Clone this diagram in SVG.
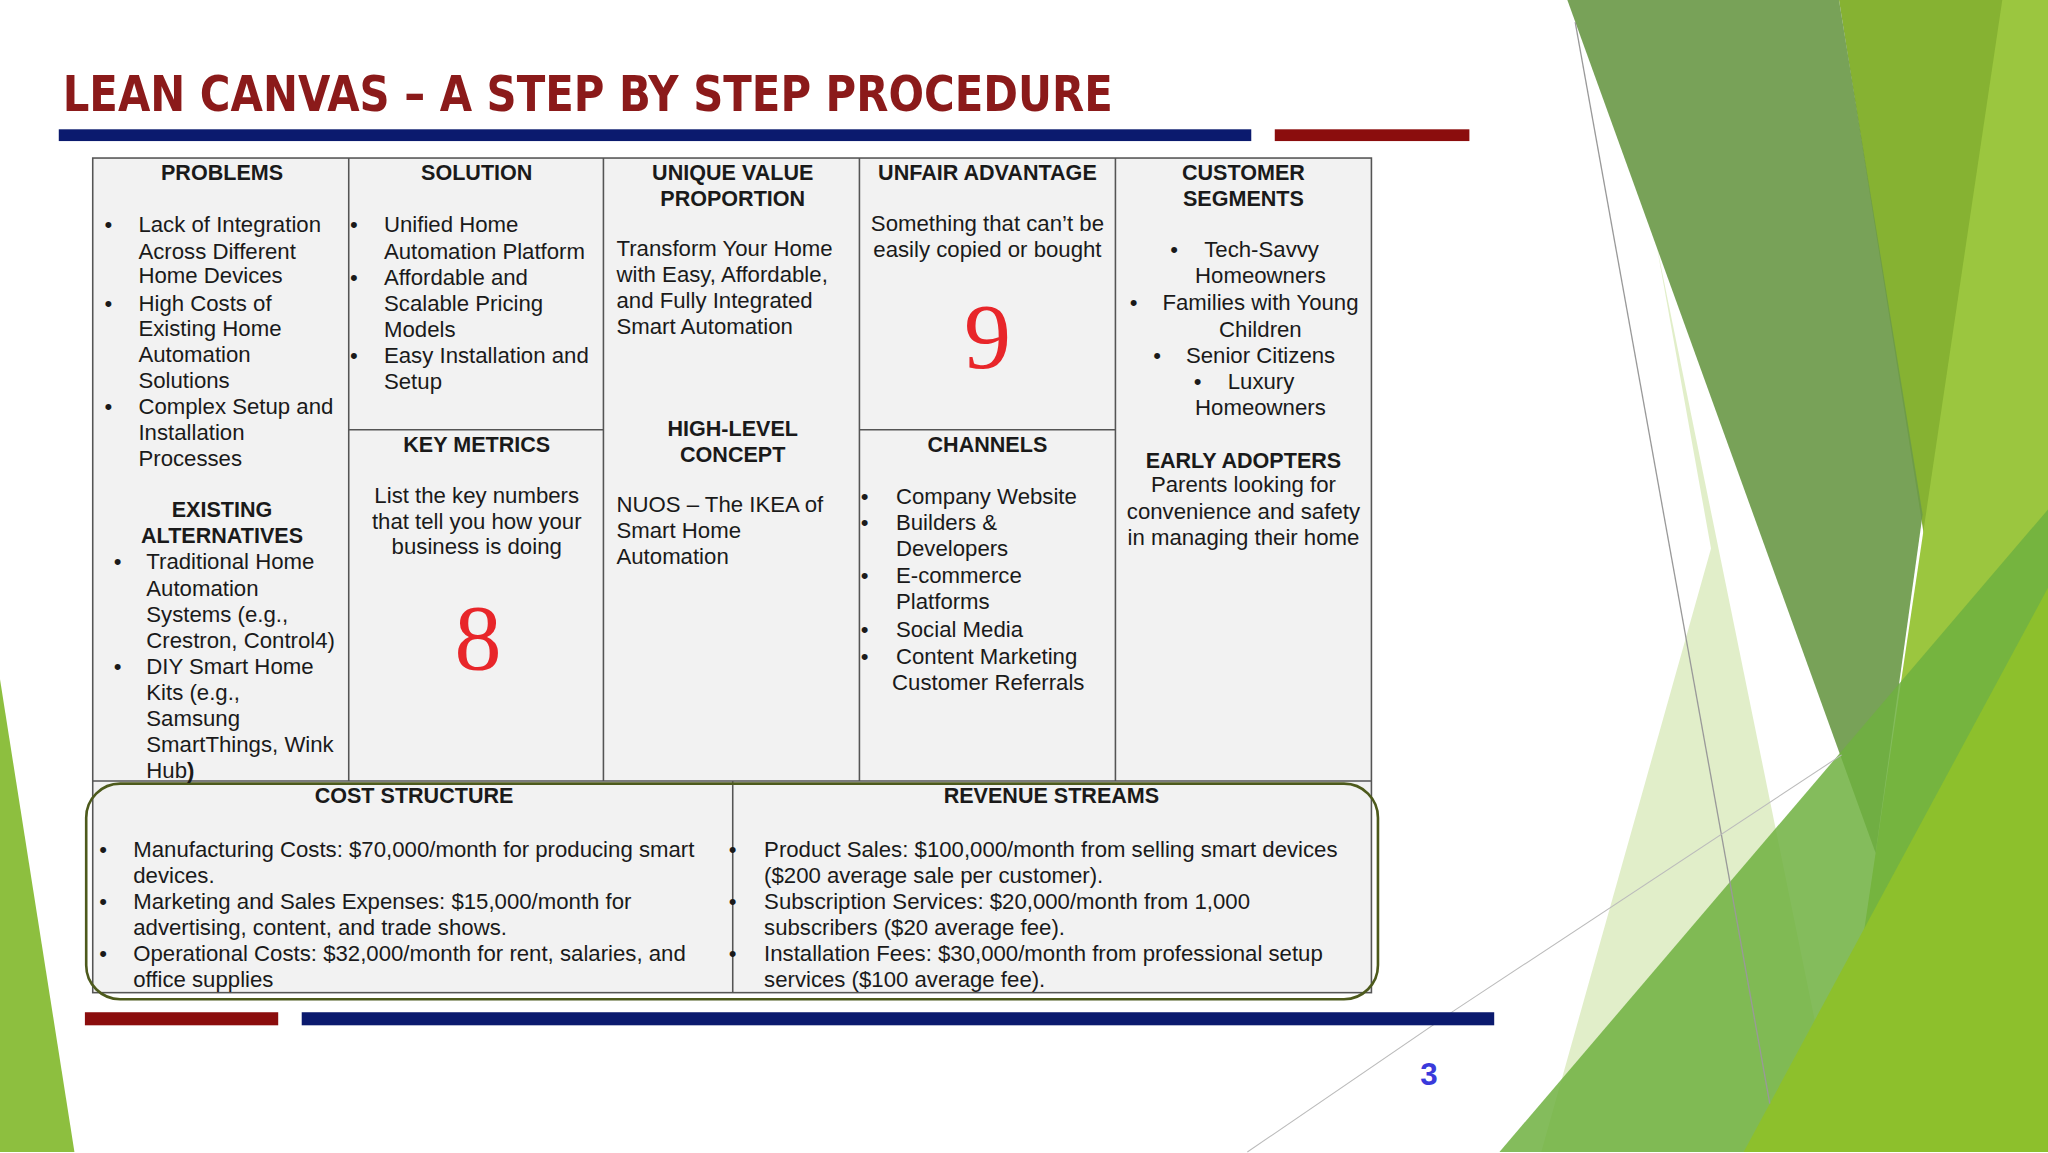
<svg xmlns="http://www.w3.org/2000/svg" width="2048" height="1153" viewBox="0 0 2048 1153">
<style>
.t{font-family:"Liberation Sans",Arial,sans-serif;font-size:17px;fill:#1a1a1a}
.h{font-family:"Liberation Sans",Arial,sans-serif;font-size:16.5px;font-weight:bold;fill:#1a1a1a;text-anchor:middle}
.c{text-anchor:middle}
.big{font-family:"Liberation Serif","Times New Roman",serif;font-size:72px;fill:#e8262a;text-anchor:middle}
.ln{stroke:#555;stroke-width:1.2;fill:none}
</style>
<rect width="2048" height="1153" fill="#fff"/>
<g transform="scale(1.30612)">
<g id="background">
<polygon points="1268,186 1410,882 1180,882 1310,420" fill="#dcebc0" opacity="0.85"/>
<polygon points="1408,0 1568,0 1568,882 1500,580" fill="#86b232"/>
<polygon points="1533,0 1568,0 1568,882 1402,882" fill="#9bc63f"/>
<polygon points="1200,0 1408,0 1472,394 1436,653" fill="#6c9a4a" opacity="0.92"/>
<polygon points="1148,882 1568,390 1568,882" fill="#6fb040" opacity="0.85"/>
<polygon points="1335,882 1568,450 1568,882" fill="#8dc02c"/>
<line x1="1206" y1="17" x2="1355" y2="845" stroke="#999" stroke-width="1"/>
<line x1="955" y1="882" x2="1113" y2="774" stroke="#bbb" stroke-width="0.8"/>
<line x1="1113" y1="774" x2="1410" y2="578" stroke="#bbb" stroke-width="0.8"/>
<polygon points="0,520 57,882 0,882" fill="#8dbf3f"/>
</g>
<g id="title">
<text x="48" y="85" textLength="804" lengthAdjust="spacingAndGlyphs" style="font-family:'DejaVu Sans Condensed','DejaVu Sans',sans-serif;font-size:38px;font-weight:bold;fill:#8b1a1a">LEAN CANVAS – A STEP BY STEP PROCEDURE</text>
<rect x="45" y="99" width="913" height="9" fill="#0b1a6e"/>
<rect x="976" y="99" width="149" height="9" fill="#8b0d0d"/>
<rect x="65" y="775" width="148" height="10" fill="#8b0d0d"/>
<rect x="231" y="775" width="913" height="10" fill="#0b1a6e"/>
<text x="1094" y="831" style="font-family:'Liberation Sans',Arial,sans-serif;font-size:24px;font-weight:bold;fill:#3a3adb" text-anchor="middle">3</text>
</g>
<g id="canvas-frame">
<rect x="71" y="121" width="979" height="639" fill="#f2f2f2" stroke="#555" stroke-width="1.2"/>
<line class="ln" x1="267" y1="121" x2="267" y2="598"/>
<line class="ln" x1="462" y1="121" x2="462" y2="598"/>
<line class="ln" x1="658" y1="121" x2="658" y2="598"/>
<line class="ln" x1="854" y1="121" x2="854" y2="598"/>
<line class="ln" x1="267" y1="329" x2="462" y2="329"/>
<line class="ln" x1="658" y1="329" x2="854" y2="329"/>
<line class="ln" x1="71" y1="598" x2="1050" y2="598"/>
<line class="ln" x1="561" y1="598" x2="561" y2="760"/>
<rect x="66" y="600" width="989" height="165" rx="26" fill="none" stroke="#4d5a1c" stroke-width="2"/>
</g>
<g id="problems">
<text class="h" x="170" y="138">PROBLEMS</text>
<text class="t" x="80" y="178">•</text><text class="t" x="106" y="178">Lack of Integration</text>
<text class="t" x="106" y="198">Across Different</text>
<text class="t" x="106" y="217">Home Devices</text>
<text class="t" x="80" y="238">•</text><text class="t" x="106" y="238">High Costs of</text>
<text class="t" x="106" y="257">Existing Home</text>
<text class="t" x="106" y="277">Automation</text>
<text class="t" x="106" y="297">Solutions</text>
<text class="t" x="80" y="317">•</text><text class="t" x="106" y="317">Complex Setup and</text>
<text class="t" x="106" y="337">Installation</text>
<text class="t" x="106" y="357">Processes</text>
<text class="h" x="170" y="396">EXISTING</text>
<text class="h" x="170" y="416">ALTERNATIVES</text>
<text class="t" x="87" y="436">•</text><text class="t" x="112" y="436">Traditional Home</text>
<text class="t" x="112" y="456">Automation</text>
<text class="t" x="112" y="476">Systems (e.g.,</text>
<text class="t" x="112" y="496">Crestron, Control4)</text>
<text class="t" x="87" y="516">•</text><text class="t" x="112" y="516">DIY Smart Home</text>
<text class="t" x="112" y="536">Kits (e.g.,</text>
<text class="t" x="112" y="556">Samsung</text>
<text class="t" x="112" y="576">SmartThings, Wink</text>
<text class="t" x="112" y="596">Hub<tspan font-weight="bold">)</tspan></text>
</g>
<g id="solution">
<text class="h" x="365" y="138">SOLUTION</text>
<text class="t" x="268" y="178">•</text><text class="t" x="294" y="178">Unified Home</text>
<text class="t" x="294" y="198">Automation Platform</text>
<text class="t" x="268" y="218">•</text><text class="t" x="294" y="218">Affordable and</text>
<text class="t" x="294" y="238">Scalable Pricing</text>
<text class="t" x="294" y="258">Models</text>
<text class="t" x="268" y="278">•</text><text class="t" x="294" y="278">Easy Installation and</text>
<text class="t" x="294" y="298">Setup</text>
</g>
<g id="key-metrics">
<text class="h" x="365" y="346">KEY METRICS</text>
<text class="t c" x="365" y="385">List the key numbers</text>
<text class="t c" x="365" y="405">that tell you how your</text>
<text class="t c" x="365" y="424">business is doing</text>
<text class="big" x="366" y="512">8</text>
</g>
<g id="uvp">
<text class="h" x="561" y="138">UNIQUE VALUE</text>
<text class="h" x="561" y="158">PROPORTION</text>
<text class="t" x="472" y="196">Transform Your Home</text>
<text class="t" x="472" y="216">with Easy, Affordable,</text>
<text class="t" x="472" y="236">and Fully Integrated</text>
<text class="t" x="472" y="256">Smart Automation</text>
</g>
<g id="high-level-concept">
<text class="h" x="561" y="334">HIGH-LEVEL</text>
<text class="h" x="561" y="354">CONCEPT</text>
<text class="t" x="472" y="392">NUOS – The IKEA of</text>
<text class="t" x="472" y="412">Smart Home</text>
<text class="t" x="472" y="432">Automation</text>
</g>
<g id="unfair-advantage">
<text class="h" x="756" y="138">UNFAIR ADVANTAGE</text>
<text class="t c" x="756" y="177">Something that can’t be</text>
<text class="t c" x="756" y="197">easily copied or bought</text>
<text class="big" x="756" y="282">9</text>
</g>
<g id="channels">
<text class="h" x="756" y="346">CHANNELS</text>
<text class="t" x="659" y="386">•</text><text class="t" x="686" y="386">Company Website</text>
<text class="t" x="659" y="406">•</text><text class="t" x="686" y="406">Builders &amp;</text>
<text class="t" x="686" y="426">Developers</text>
<text class="t" x="659" y="446">•</text><text class="t" x="686" y="446">E-commerce</text>
<text class="t" x="686" y="466">Platforms</text>
<text class="t" x="659" y="488">•</text><text class="t" x="686" y="488">Social Media</text>
<text class="t" x="659" y="508">•</text><text class="t" x="686" y="508">Content Marketing</text>
<text class="t" x="683" y="528">Customer Referrals</text>
</g>
<g id="customer-segments">
<text class="h" x="952" y="138">CUSTOMER</text>
<text class="h" x="952" y="158">SEGMENTS</text>
<text class="t" x="896" y="197">•</text><text class="t" x="922" y="197">Tech-Savvy</text>
<text class="t c" x="965" y="217">Homeowners</text>
<text class="t" x="865" y="237">•</text><text class="t" x="890" y="237">Families with Young</text>
<text class="t c" x="965" y="258">Children</text>
<text class="t" x="883" y="278">•</text><text class="t" x="908" y="278">Senior Citizens</text>
<text class="t" x="914" y="298">•</text><text class="t" x="940" y="298">Luxury</text>
<text class="t c" x="965" y="318">Homeowners</text>
<text class="h" x="952" y="358">EARLY ADOPTERS</text>
<text class="t c" x="952" y="377">Parents looking for</text>
<text class="t c" x="952" y="397">convenience and safety</text>
<text class="t c" x="952" y="417">in managing their home</text>
</g>
<g id="cost-structure">
<text class="h" x="317" y="615">COST STRUCTURE</text>
<text class="t" x="76" y="656">•</text><text class="t" x="102" y="656">Manufacturing Costs: $70,000/month for producing smart</text>
<text class="t" x="102" y="676">devices.</text>
<text class="t" x="76" y="696">•</text><text class="t" x="102" y="696">Marketing and Sales Expenses: $15,000/month for</text>
<text class="t" x="102" y="716">advertising, content, and trade shows.</text>
<text class="t" x="76" y="736">•</text><text class="t" x="102" y="736">Operational Costs: $32,000/month for rent, salaries, and</text>
<text class="t" x="102" y="756">office supplies</text>
</g>
<g id="revenue-streams">
<text class="h" x="805" y="615">REVENUE STREAMS</text>
<text class="t" x="558" y="656">•</text><text class="t" x="585" y="656">Product Sales: $100,000/month from selling smart devices</text>
<text class="t" x="585" y="676">($200 average sale per customer).</text>
<text class="t" x="558" y="696">•</text><text class="t" x="585" y="696">Subscription Services: $20,000/month from 1,000</text>
<text class="t" x="585" y="716">subscribers ($20 average fee).</text>
<text class="t" x="558" y="736">•</text><text class="t" x="585" y="736">Installation Fees: $30,000/month from professional setup</text>
<text class="t" x="585" y="756">services ($100 average fee).</text>
</g>
<g id="connectors"/>
</g>
</svg>
